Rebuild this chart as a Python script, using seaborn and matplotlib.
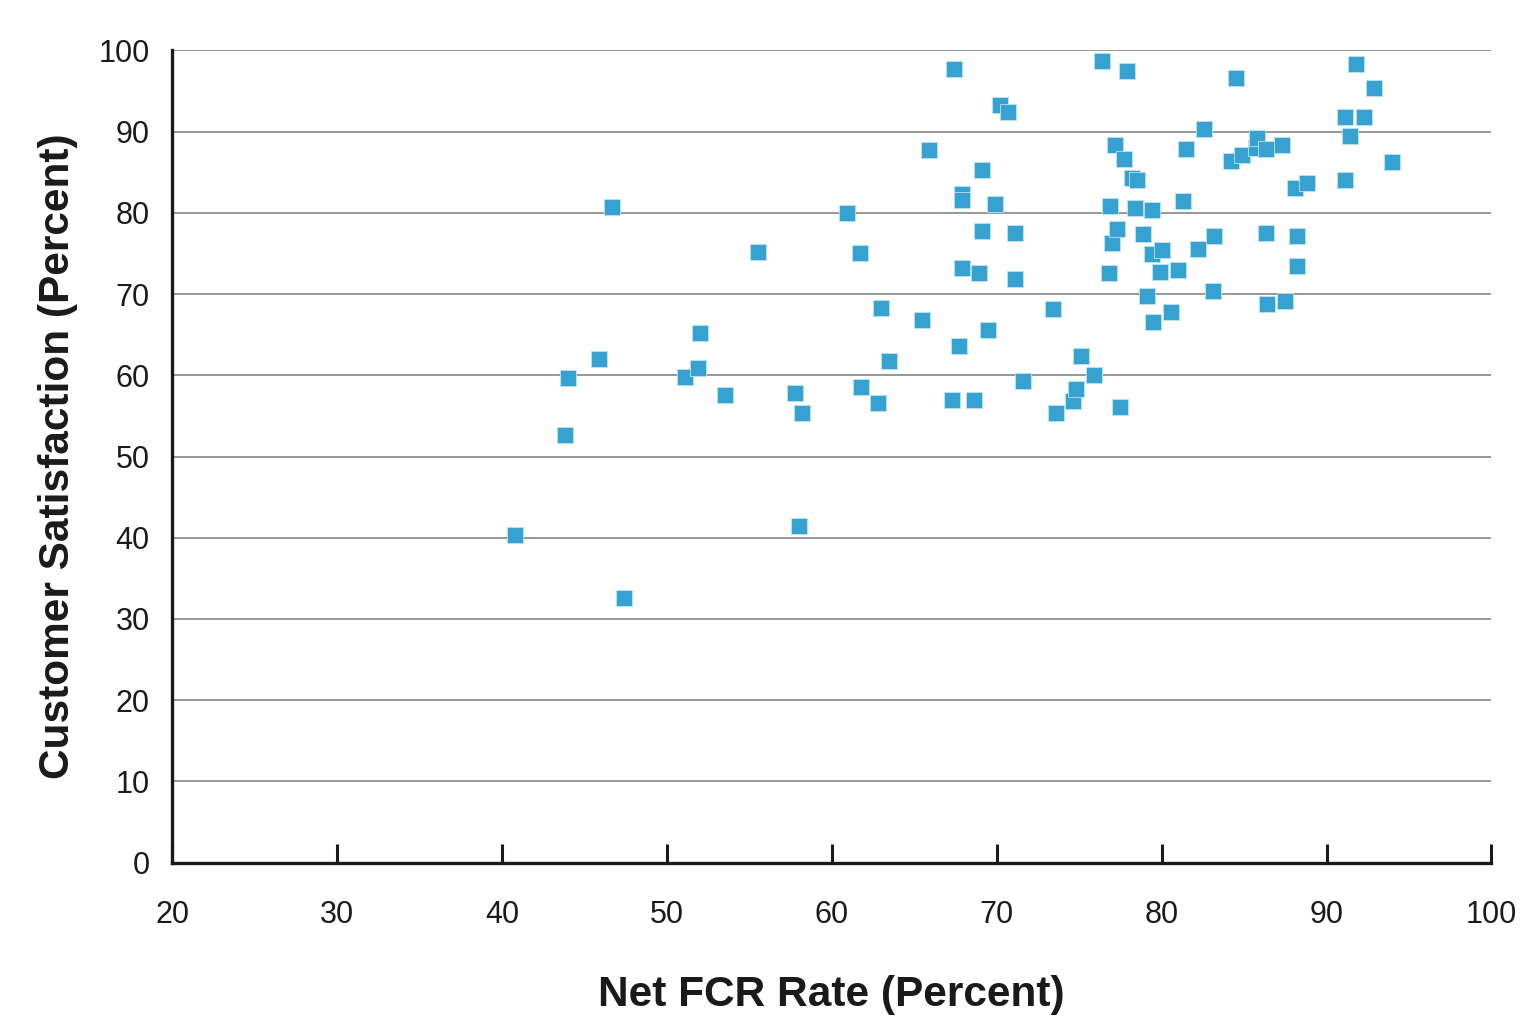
import matplotlib

matplotlib.use("Agg")

import matplotlib.pyplot as plt
import numpy as np
import pandas as pd
import seaborn as sns

# Net FCR rate (x) vs customer satisfaction (y)
fcr_rate = [
    40.8, 47.4, 43.8, 44.0, 45.9, 46.7, 51.1, 51.9, 52.0, 53.5,
    55.5, 57.8, 58.2, 58.0, 60.9, 61.7, 61.8, 62.8, 63.0, 63.5,
    65.5, 65.9, 67.4, 67.3, 67.7, 67.9, 67.9, 67.9, 68.9, 68.6,
    69.1, 69.1, 69.5, 69.9, 70.2, 70.7, 71.1, 71.1, 71.6, 73.4,
    73.6, 74.6, 74.8, 75.1, 75.9, 76.4, 76.8, 76.9, 77.0, 77.2,
    77.3, 77.5, 77.7, 77.9, 78.2, 78.5, 78.4, 78.9, 79.1, 79.4,
    79.4, 79.5, 79.9, 80.0, 80.6, 81.0, 81.3, 81.5, 82.2, 82.6,
    83.1, 83.2, 84.2, 84.5, 84.9, 85.7, 85.8, 86.3, 86.3, 86.4,
    87.3, 87.5, 88.1, 88.2, 88.2, 88.8, 91.1, 91.1, 91.4, 91.8,
    92.3, 92.9, 94.0,
]
satisfaction = [
    40.3, 32.6, 52.6, 59.7, 62.0, 80.7, 59.8, 60.9, 65.2, 57.6,
    75.2, 57.8, 55.4, 41.4, 80.0, 75.0, 58.6, 56.6, 68.3, 61.8,
    66.8, 87.7, 97.7, 57.0, 63.6, 73.2, 82.3, 81.6, 72.6, 57.0,
    77.7, 85.3, 65.6, 81.1, 93.3, 92.4, 77.5, 71.9, 59.3, 68.2,
    55.4, 56.8, 58.3, 62.4, 60.0, 98.7, 72.6, 80.8, 76.3, 88.3,
    78.0, 56.1, 86.6, 97.4, 84.3, 84.0, 80.6, 77.4, 69.7, 80.4,
    74.9, 66.6, 72.7, 75.4, 67.8, 73.0, 81.5, 87.9, 75.6, 90.3,
    70.4, 77.2, 86.4, 96.6, 87.1, 88.0, 89.2, 87.9, 77.5, 68.8,
    88.3, 69.1, 83.0, 73.4, 77.1, 83.7, 91.8, 84.0, 89.4, 98.3,
    91.8, 95.4, 86.2,
]

x_ticks = list(range(20, 101, 10))
y_ticks = list(range(0, 101, 10))

df = pd.DataFrame({"fcr": fcr_rate, "csat": satisfaction})

sns.set_theme(style="white")
plt.rcParams["font.family"] = ["Liberation Sans", "DejaVu Sans"]

fig = plt.figure(figsize=(15.36, 10.27), dpi=100)
ax = fig.add_axes([0.112, 0.160, 0.859, 0.791])

for yv in y_ticks[1:]:
    ax.axhline(yv, color="#7a7a7a", lw=1.1, zorder=1)

sns.scatterplot(
    data=df, x="fcr", y="csat", ax=ax, marker="s", s=125,
    color="#36A2D2", edgecolor="#BFE2F2", linewidth=0.6, zorder=3, clip_on=False,
)

ax.set_xlim(20, 100)
ax.set_ylim(0, 100)
ax.set_xticks(x_ticks)
ax.set_yticks(y_ticks)
ax.tick_params(axis="x", bottom=True, direction="in", length=14, width=2.2,
               color="#1a1a1a", pad=27, labelsize=22, labelcolor="#1a1a1a")
ax.tick_params(axis="y", left=False, length=0, pad=16, labelsize=22,
               labelcolor="#1a1a1a")

for side in ["top", "right"]:
    ax.spines[side].set_visible(False)
for side in ["left", "bottom"]:
    ax.spines[side].set_color("#1a1a1a")
    ax.spines[side].set_linewidth(2.4)

ax.set_xlabel("Net FCR Rate (Percent)", fontsize=30.5, fontweight="bold",
              color="#1a1a1a", labelpad=32)
ax.set_ylabel("Customer Satisfaction (Percent)", fontsize=30.5, fontweight="bold",
              color="#1a1a1a", labelpad=15)

fig.savefig("out.png", dpi=100)
